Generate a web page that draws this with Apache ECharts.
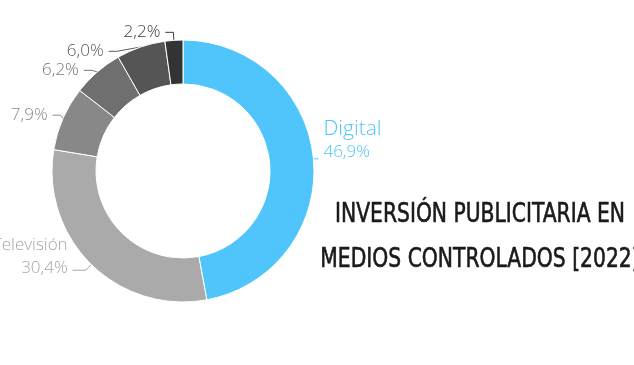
<!DOCTYPE html>
<html><head><meta charset="utf-8">
<script src="https://cdn.jsdelivr.net/npm/echarts@6/dist/echarts.min.js"></script>
<style>html,body{margin:0;padding:0;background:#fff}#c{width:634px;height:365px}</style>
</head><body><div id="c"></div>
<script>
var categories = ['Digital', 'Televisión', 'Radio', 'Exterior', 'Diarios', 'Otros'];
var values = [46.9, 30.4, 7.9, 6.2, 6.0, 2.2];
var showName = [true, true, false, false, false, false];
var colors = ['#4fc5fb', '#aaaaaa', '#888888', '#6f6f6f', '#555555', '#333333'];
var labelColors = ['#4fc5fb', '#a6a6a6', '#8a8a8a', '#777777', '#5a5a5a', '#3a3a3a'];
var titleLines = ['INVERSIÓN PUBLICITARIA EN', 'MEDIOS CONTROLADOS [2022]'];

var titleFont = '27px "DejaVu Sans Condensed"';
var mctx = document.createElement('canvas').getContext('2d');
mctx.font = titleFont;
var titleScale = 290 / mctx.measureText(titleLines[0]).width;

var lineLen = [[3, 2], [8, 13], [8, 8], [8, 8], [8, 8], [8, 8]];

var chart = echarts.init(document.getElementById('c'));
var data = categories.map(function (n, i) {
  return {
    name: n, value: values[i],
    itemStyle: { color: colors[i] },
    label: { color: labelColors[i] },
    labelLine: { length: lineLen[i][0], length2: lineLen[i][1], lineStyle: { color: labelColors[i] } }
  };
});
chart.setOption({
  animation: false,
  series: [{
    type: 'pie',
    center: [183, 171],
    radius: [87, 131],
    startAngle: 90,
    clockwise: true,
    itemStyle: { borderColor: '#ffffff', borderWidth: 1 },
    label: {
      fontFamily: 'Open Sans', fontWeight: 300, overflow: 'none',
      formatter: function (p) {
        var v = p.value.toFixed(1).replace('.', ',') + '%';
        if (!showName[p.dataIndex]) return '{v|' + v + '}';
        return p.dataIndex === 0
          ? '{N|' + p.name + '}\n{v|' + v + '}\n{e1|}'
          : '{n|' + p.name + '}\n{v|' + v + '}\n{e2|}';
      },
      rich: {
        N: { fontSize: 21, fontFamily: 'Open Sans', fontWeight: 300, lineHeight: 24 },
        n: { fontSize: 17, fontFamily: 'Open Sans', fontWeight: 300, lineHeight: 23 },
        v: { fontSize: 17, fontFamily: 'Open Sans', fontWeight: 300, lineHeight: 22 },
        e1: { fontSize: 4, lineHeight: 37 },
        e2: { fontSize: 4, lineHeight: 28 }
      }
    },
    labelLine: { length: 8, length2: 8, lineStyle: { width: 1 } },
    data: data
  }],
  graphic: [{
    type: 'text', x: 480, y: 192, scaleX: titleScale, originX: 0,
    style: {
      text: titleLines.join('\n'), textAlign: 'center',
      font: titleFont, lineHeight: 45, fill: '#1a1a1a',
      stroke: '#1a1a1a', lineWidth: 0.6
    }
  }]
});
</script></body></html>
